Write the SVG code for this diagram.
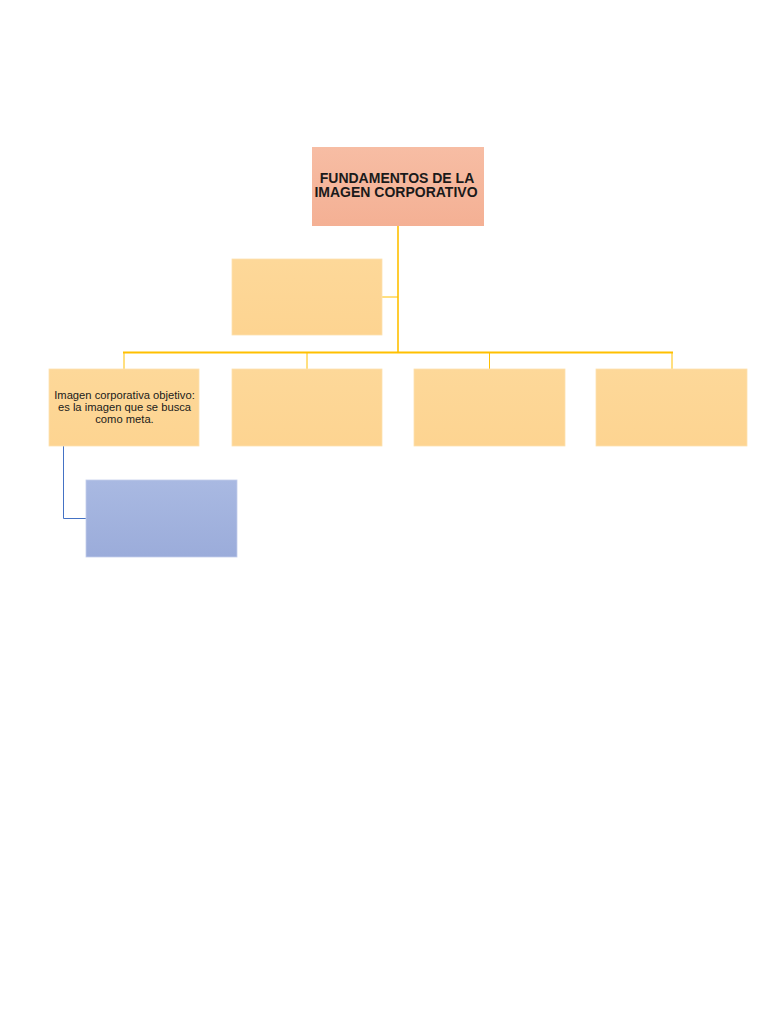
<svg xmlns="http://www.w3.org/2000/svg" width="768" height="1024" viewBox="0 0 768 1024">
<defs>
<linearGradient id="gTop" x1="0" y1="0" x2="0" y2="1"><stop offset="0" stop-color="#F7BDA4"/><stop offset="1" stop-color="#F4B094"/></linearGradient>
<linearGradient id="gOr" x1="0" y1="0" x2="0" y2="1"><stop offset="0" stop-color="#FDD899"/><stop offset="1" stop-color="#FDD491"/></linearGradient>
<linearGradient id="gBl" x1="0" y1="0" x2="0" y2="1"><stop offset="0" stop-color="#A9B9E2"/><stop offset="1" stop-color="#9BACDA"/></linearGradient>
</defs>
<style>
.or{fill:url(#gOr);stroke:#FDE2B0;stroke-width:0.8}
.c{fill:none;stroke:#FFC000}
.t{font-family:"Liberation Sans",Arial,sans-serif;fill:#1a1a1a;text-anchor:middle}
</style>
<rect width="768" height="1024" fill="#FFFFFF"/>
<g id="connectors">
<line class="c" x1="398" y1="226" x2="398" y2="353" stroke-width="1.6"/>
<line class="c" x1="123" y1="352.5" x2="673" y2="352.5" stroke-width="2"/>
<line class="c" x1="382" y1="297" x2="398" y2="297" stroke-width="1"/>
<line class="c" x1="124" y1="352" x2="124" y2="369" stroke-width="1"/>
<line class="c" x1="307" y1="352" x2="307" y2="369" stroke-width="1"/>
<line class="c" x1="489.5" y1="352" x2="489.5" y2="369" stroke-width="1"/>
<line class="c" x1="672" y1="352" x2="672" y2="369" stroke-width="1"/>
<polyline fill="none" stroke="#4472C4" stroke-width="1" points="63.5,446 63.5,518.5 86,518.5"/>
</g>
<g id="top">
<rect x="312" y="147" width="172" height="79" fill="url(#gTop)"/>
<text class="t" x="397" y="183" font-size="14" font-weight="bold">FUNDAMENTOS DE LA</text>
<text class="t" x="396" y="197" font-size="14" font-weight="bold">IMAGEN CORPORATIVO</text>
</g>
<g id="assistant"><rect class="or" x="232" y="259" width="150" height="76"/></g>
<g id="child1">
<rect class="or" x="49" y="369" width="150" height="77"/>
<text class="t" x="124.5" y="399" font-size="11.2">Imagen corporativa objetivo:</text>
<text class="t" x="124.5" y="411" font-size="11.2">es la imagen que se busca</text>
<text class="t" x="124.5" y="423" font-size="11.2">como meta.</text>
</g>
<g id="child2"><rect class="or" x="232" y="369" width="150" height="77"/></g>
<g id="child3"><rect class="or" x="414" y="369" width="151" height="77"/></g>
<g id="child4"><rect class="or" x="596" y="369" width="151" height="77"/></g>
<g id="sub1"><rect x="86" y="480" width="151" height="77" fill="url(#gBl)" stroke="#C3CEEC" stroke-width="0.8"/></g>
</svg>
